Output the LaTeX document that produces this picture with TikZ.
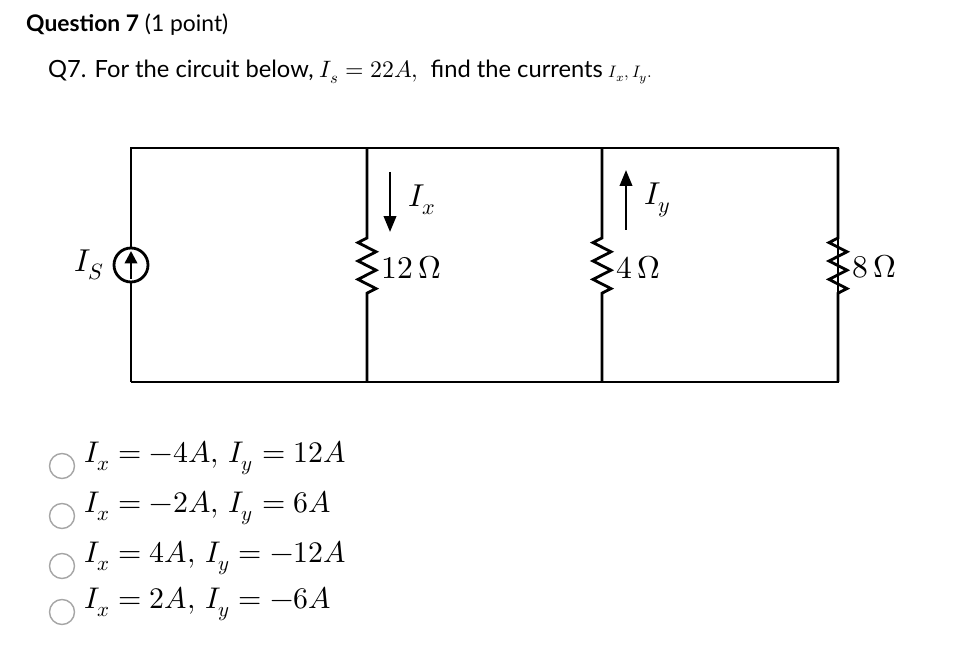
\documentclass[tikz,border=0pt]{standalone}
\usepackage{fontspec}
\setmainfont{Lato}
\usepackage{unicode-math}
\setmathfont{Latin Modern Math}
\usetikzlibrary{arrows.meta}
\begin{document}
\begin{tikzpicture}[x=0.02cm,y=-0.02cm,
  wire/.style={line width=1.6pt},
  lab/.style={font=\fontsize{18}{22}\selectfont},
  ans/.style={font=\fontsize{17}{20}\selectfont, anchor=west},
  radio/.style={draw=gray!70, line width=0.8pt, fill=white, circle, minimum size=0.5cm, inner sep=0pt},
  cur/.style={line width=1.4pt,-{Triangle[length=9pt,width=7pt]}}]
\useasboundingbox (0,0) rectangle (953,661);
\node[anchor=west,font=\fontsize{13}{15}\selectfont] (title) at (20,25) {\textbf{Question 7} (1 point)};
\node[anchor=west,font=\fontsize{13.5}{16}\selectfont] (q) at (42,72) {Q7. For the circuit below, $I_s=22A,$\ \ find the currents $\scriptstyle I_x,\,I_y.$};
\coordinate (tl) at (131,148); \coordinate (tr) at (838,148);
\coordinate (bl) at (131,382); \coordinate (br) at (838,382);
\draw[wire] (bl) -- (tl) -- (tr) -- (br) -- (bl);
\coordinate (src) at (131,265);
\draw[line width=1.6pt,fill=white] (src) circle[radius=17];
\draw[line width=1.4pt,-{Triangle[length=7pt,width=7pt]}] (131,279) -- (131,251);
\node[lab,anchor=east] (is) at (110,265) {$I_S$};
\foreach \x/\n/\v in {367/r1/12\,\Omega,602/r2/4\,\Omega,838/r3/8\,\Omega}{
  \draw[wire,line join=miter] (\x,148) -- (\x,238) -- ++(-9,4.6) -- ++(18,9.2) -- ++(-18,9.2) -- ++(18,9.2) -- ++(-18,9.2) -- ++(18,9.2) -- ++(-9,4.6) -- (\x,382);
  \node[lab,anchor=west] (\n) at (\x+8,267) {$\v$};
}
\coordinate (a1s) at (390,172); \coordinate (a1e) at (390,232);
\draw[cur] (a1s) -- (a1e);
\node[lab,anchor=west] (ix) at (402,200) {$I_x$};
\coordinate (a2s) at (626,230); \coordinate (a2e) at (626,170);
\draw[cur] (a2s) -- (a2e);
\node[lab,anchor=west] (iy) at (638,200) {$I_y$};
\foreach \y/\t [count=\i] in {466/{I_x=-4A,\,I_y=12A},516/{I_x=-2A,\,I_y=6A},566/{I_x=4A,\,I_y=-12A},612/{I_x=2A,\,I_y=-6A}}{
  \node[radio] (rb\i) at (62,\y) {};
  \node[ans] (ans\i) at (78,\y-8) {$\t$};
}
\end{tikzpicture}
\end{document}
